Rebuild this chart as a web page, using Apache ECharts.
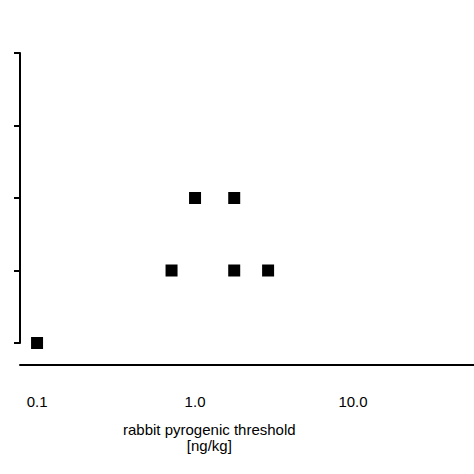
<html><head><script src="https://cdn.jsdelivr.net/npm/echarts@6/dist/echarts.min.js"></script></head>
<body style="margin:0"><div id="c" style="width:474px;height:474px"></div>
<script>
var xThreshold = [0.1, 0.71, 1.0, 1.77, 1.77, 2.9, 6.0, 55];
var yLevel = [1, 2, 3, 2, 3, 2, 5.08, 5.08];
var xLabels = [0.1, 1, 10];

var pts = xThreshold.map(function (x, i) { return [x, yLevel[i]]; });
var chart = echarts.init(document.getElementById('c'), null, { renderer: 'svg' });
var xMin = 0.078, xMax = 58.3;
chart.setOption({
  animation: false,
  grid: [
    { left: 20, right: 0, top: 53, bottom: 131 },
    { left: 20, right: 0, top: 365, height: 0 }
  ],
  xAxis: [
    { type: 'log', gridIndex: 0, min: xMin, max: xMax, show: false },
    { type: 'log', gridIndex: 1, min: xMin, max: xMax,
      axisLine: { lineStyle: { color: '#000', width: 2 } },
      axisTick: { show: false }, splitLine: { show: false },
      axisLabel: { margin: 24, color: '#000', fontSize: 15, fontFamily: 'Liberation Sans',
        showMinLabel: false, showMaxLabel: false,
        formatter: function (v) { return v < 1 ? '0.1' : (Math.abs(v - 1) < 1e-6 ? '1.0' : '10.0'); } } }
  ],
  yAxis: [
    { type: 'value', gridIndex: 0, min: 1, max: 5, interval: 1,
      axisLine: { show: true, lineStyle: { color: '#000', width: 2 } },
      axisTick: { show: true, length: 6, lineStyle: { color: '#000', width: 2 } },
      axisLabel: { show: false }, splitLine: { show: false } },
    { type: 'value', gridIndex: 1, show: false }
  ],
  graphic: [{ type: 'text', left: 123, top: 417, style: { text: 'rabbit pyrogenic threshold\n[ng/kg]',
    textAlign: 'center', fill: '#000', font: '15px Liberation Sans', lineHeight: 16 } }],
  series: [{ type: 'scatter', xAxisIndex: 0, yAxisIndex: 0, symbol: 'rect', symbolSize: 12,
    itemStyle: { color: '#000', opacity: 1 }, data: pts }]
});
</script></body></html>
